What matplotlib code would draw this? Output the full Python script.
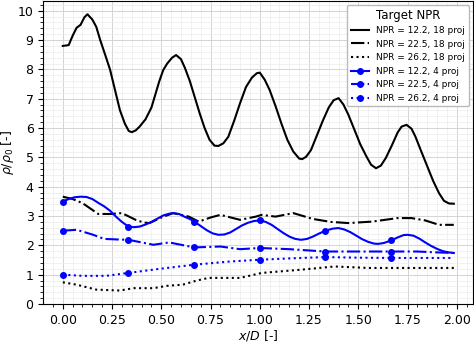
"""
Density ratio along the jet axis for three target NPR values,
18 projections (black) vs. 4 projections (blue).
"""
import matplotlib
matplotlib.use("Agg")
import matplotlib.pyplot as plt

# NPR = 12.2, 18 projections
x_npr12_18 = [0.00, 0.03, 0.05, 0.07, 0.09, 0.11, 0.125, 0.15, 0.17, 0.19, 0.215,
              0.24, 0.265, 0.29, 0.315, 0.335, 0.35, 0.37, 0.39, 0.42, 0.45, 0.47,
              0.49, 0.51, 0.53, 0.555, 0.575, 0.60, 0.62, 0.645, 0.67, 0.695, 0.72,
              0.745, 0.77, 0.79, 0.815, 0.84, 0.87, 0.90, 0.93, 0.96, 0.985, 1.00,
              1.025, 1.05, 1.08, 1.11, 1.14, 1.17, 1.20, 1.215, 1.235, 1.26, 1.29,
              1.32, 1.35, 1.375, 1.40, 1.425, 1.45, 1.48, 1.51, 1.54, 1.565, 1.59,
              1.615, 1.64, 1.67, 1.70, 1.72, 1.745, 1.77, 1.79, 1.82, 1.85, 1.88,
              1.91, 1.935, 1.96, 1.985]
y_npr12_18 = [8.80, 8.83, 9.15, 9.42, 9.52, 9.78, 9.88, 9.70, 9.45, 9.00, 8.50,
              7.99, 7.30, 6.61, 6.15, 5.90, 5.86, 5.92, 6.05, 6.30, 6.70, 7.15,
              7.60, 7.98, 8.20, 8.40, 8.49, 8.35, 8.05, 7.60, 7.05, 6.50, 6.00,
              5.60, 5.40, 5.39, 5.48, 5.70, 6.25, 6.85, 7.40, 7.72, 7.87, 7.89,
              7.65, 7.30, 6.75, 6.15, 5.60, 5.20, 4.96, 4.94, 5.02, 5.25, 5.75,
              6.25, 6.70, 6.95, 7.02, 6.80, 6.45, 5.95, 5.45, 5.05, 4.75, 4.63,
              4.72, 4.98, 5.40, 5.85, 6.05, 6.11, 5.98, 5.71, 5.20, 4.70, 4.20,
              3.78, 3.52, 3.43, 3.42]

# NPR = 22.5, 18 projections
x_npr22_18 = [0.00, 0.05, 0.10, 0.15, 0.18, 0.24, 0.30, 0.37, 0.41, 0.44, 0.50,
              0.56, 0.64, 0.69, 0.75, 0.80, 0.90, 0.98, 1.01, 1.08, 1.17, 1.27,
              1.36, 1.45, 1.57, 1.70, 1.77, 1.84, 1.91, 1.985]
y_npr22_18 = [3.66, 3.58, 3.44, 3.21, 3.07, 3.07, 3.10, 2.87, 2.78, 2.76, 2.95,
              3.10, 2.98, 2.81, 2.95, 3.04, 2.87, 2.98, 3.04, 2.98, 3.10, 2.90,
              2.80, 2.76, 2.81, 2.93, 2.93, 2.85, 2.70, 2.70]

# NPR = 26.2, 18 projections
x_npr26_18 = [0.00, 0.07, 0.17, 0.29, 0.36, 0.46, 0.53, 0.61, 0.68, 0.74, 0.85,
              0.90, 1.01, 1.21, 1.38, 1.55, 1.69, 1.985]
y_npr26_18 = [0.74, 0.66, 0.49, 0.46, 0.54, 0.54, 0.62, 0.66, 0.80, 0.89, 0.89,
              0.89, 1.06, 1.17, 1.28, 1.23, 1.23, 1.23]

# axial stations where the 4-projection reconstructions are marked
x_proj = [0.0, 0.333, 0.667, 1.0, 1.333, 1.667]

# NPR = 12.2, 4 projections
x_npr12_4 = [0.00, 0.03, 0.06, 0.09, 0.12, 0.15, 0.18, 0.21, 0.24, 0.27, 0.30,
             0.333, 0.36, 0.39, 0.42, 0.45, 0.48, 0.51, 0.54, 0.56, 0.59, 0.62,
             0.645, 0.667, 0.70, 0.73, 0.76, 0.79, 0.82, 0.85, 0.88, 0.91, 0.94,
             0.97, 1.0, 1.03, 1.06, 1.09, 1.12, 1.15, 1.18, 1.21, 1.24, 1.27,
             1.30, 1.333, 1.37, 1.40, 1.43, 1.46, 1.49, 1.52, 1.55, 1.58, 1.60,
             1.63, 1.667, 1.70, 1.73, 1.75, 1.78, 1.81, 1.84, 1.87, 1.90, 1.93,
             1.96, 1.985]
y_npr12_4 = [3.49, 3.58, 3.64, 3.66, 3.65, 3.58, 3.45, 3.33, 3.18, 2.98, 2.80,
             2.64, 2.62, 2.64, 2.71, 2.80, 2.91, 3.02, 3.08, 3.10, 3.07, 2.97,
             2.90, 2.81, 2.66, 2.52, 2.41, 2.36, 2.37, 2.44, 2.56, 2.68, 2.77,
             2.83, 2.85, 2.80, 2.70, 2.56, 2.42, 2.30, 2.22, 2.19, 2.22, 2.30,
             2.40, 2.50, 2.57, 2.59, 2.54, 2.45, 2.33, 2.21, 2.12, 2.06, 2.05,
             2.08, 2.17, 2.27, 2.35, 2.36, 2.33, 2.23, 2.10, 1.98, 1.88, 1.80,
             1.76, 1.74]

# NPR = 22.5, 4 projections
x_npr22_4 = [0.0, 0.07, 0.15, 0.21, 0.28, 0.333, 0.40, 0.46, 0.54, 0.60, 0.667,
             0.80, 0.90, 1.0, 1.15, 1.333, 1.50, 1.667, 1.80, 1.90, 1.985]
y_npr22_4 = [2.50, 2.53, 2.37, 2.22, 2.20, 2.19, 2.10, 2.02, 2.10, 2.02, 1.93,
             1.96, 1.87, 1.91, 1.87, 1.79, 1.79, 1.79, 1.79, 1.76, 1.74]

# NPR = 26.2, 4 projections
x_npr26_4 = [0.0, 0.10, 0.22, 0.333, 0.48, 0.667, 0.85, 1.0, 1.17, 1.333, 1.50,
             1.667, 1.985]
y_npr26_4 = [1.00, 0.96, 0.96, 1.06, 1.19, 1.34, 1.45, 1.51, 1.56, 1.60, 1.58,
             1.57, 1.57]

labels = ["NPR = 12.2, 18 proj", "NPR = 22.5, 18 proj", "NPR = 26.2, 18 proj",
          "NPR = 12.2, 4 proj", "NPR = 22.5, 4 proj", "NPR = 26.2, 4 proj"]


def marker_idx(x):
    """indices of the projection stations inside a series"""
    return [x.index(p) for p in x_proj]


fig = plt.figure(figsize=(4.74, 3.43), dpi=100)
ax = fig.add_axes([43.3 / 474, 38.7 / 343, 430.0 / 474, 303.8 / 343])

lw = 1.5
ax.plot(x_npr12_18, y_npr12_18, color='black', lw=lw, ls='-', label=labels[0])
ax.plot(x_npr22_18, y_npr22_18, color='black', lw=lw, ls='-.', label=labels[1])
ax.plot(x_npr26_18, y_npr26_18, color='black', lw=lw, ls=':', label=labels[2])

ax.plot(x_npr12_4, y_npr12_4, color='blue', lw=lw, ls='-', marker='o', ms=4,
        markevery=marker_idx(x_npr12_4), label=labels[3])
ax.plot(x_npr22_4, y_npr22_4, color='blue', lw=lw, ls='-.', marker='o', ms=4,
        markevery=marker_idx(x_npr22_4), label=labels[4])
ax.plot(x_npr26_4, y_npr26_4, color='blue', lw=lw, ls=':', marker='o', ms=4,
        markevery=marker_idx(x_npr26_4), label=labels[5])

ax.set_xlim(-0.099, 2.084)
ax.set_ylim(-0.01, 10.35)
ax.set_xticks([0, 0.25, 0.5, 0.75, 1.0, 1.25, 1.5, 1.75, 2.0])
ax.set_yticks(range(0, 11))

ax.minorticks_on()
ax.grid(which='major', color='#d4d4d4', lw=0.7)
ax.grid(which='minor', color='#ececec', lw=0.5)
ax.set_axisbelow(True)
ax.tick_params(labelsize=9)

ax.set_xlabel('$x/D$ [-]', fontsize=9, labelpad=0.5)
ax.set_ylabel(r'$\rho/\rho_0$ [-]', fontsize=9, labelpad=1.5)

leg = ax.legend(title='Target NPR', loc='upper right', fontsize=6.5,
                title_fontsize=8.5, framealpha=1.0, edgecolor='#bbbbbb')

fig.savefig("out.png", dpi=100)
